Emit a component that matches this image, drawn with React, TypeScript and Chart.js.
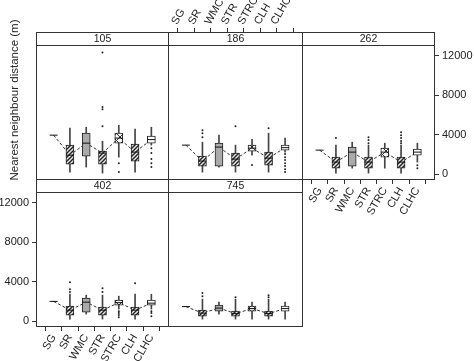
import React, { useEffect, useRef } from 'react';
import { Chart, registerables } from 'chart.js';

Chart.register(...registerables);

// ---------- data ----------
const categories = ['SG', 'SR', 'WMC', 'STR', 'STRC', 'CLH', 'CLHC'];
const panelLabels = ['105', '186', '262', '402', '745'];
const yTickValues = [0, 4000, 8000, 12000];
const yAxisTitle = 'Nearest neighbour distance (m)';

const lowerWhisker = [
  [null, 200, 710, 100, 1720, 200, 2940],
  [null, 200, 700, 200, 1920, 200, 2230],
  [null, 100, 600, 100, 600, 100, 1220],
  [null, 200, 710, 200, 1220, 200, 1220],
  [null, 200, 710, 200, 200, 200, 200],
];
const lowerQuartile = [
  [null, 1010, 1820, 1010, 3140, 1320, 3140],
  [null, 810, 810, 810, 2330, 910, 2430],
  [null, 610, 810, 610, 1720, 610, 1920],
  [null, 610, 910, 610, 1620, 610, 1620],
  [null, 510, 1010, 510, 1010, 510, 1010],
];
const medianValues = [
  [3950, 1920, 3140, 2130, 3650, 2230, 3500],
  [2940, 1320, 2740, 1520, 2630, 1620, 2680],
  [2430, 1220, 2230, 1220, 2230, 1220, 2230],
  [2000, 1110, 1920, 1110, 1870, 1110, 1820],
  [1470, 810, 1320, 760, 1270, 760, 1270],
];
const upperQuartile = [
  [null, 2940, 4150, 2330, 4150, 3040, 3850],
  [null, 1820, 3140, 2130, 2940, 2230, 2940],
  [null, 1720, 2740, 1720, 2630, 1720, 2530],
  [null, 1520, 2330, 1420, 2130, 1420, 2130],
  [null, 1110, 1620, 1010, 1520, 1010, 1520],
];
const upperWhisker = [
  [null, 4660, 4760, 3340, 4960, 4560, 4760],
  [null, 3240, 3950, 2940, 3540, 4150, 3650],
  [null, 2940, 3240, 2940, 3140, 2940, 3140],
  [null, 2740, 2630, 2630, 2530, 2740, 2730],
  [null, 2230, 1920, 2230, 1920, 2230, 1920],
];
const outlierValues = [
  [[], [], [], [4860, 6580, 6810, 12350], [1110, 200], [], [2630, 2130, 1520, 1110, 710]],
  [[], [3750, 4150, 4460], [], [4860], [910], [4660], [2030, 1720, 1420, 1110, 810, 500, 200]],
  [[], [3650], [], [3140, 3450, 3750], [], [3140, 3350, 3650, 3950, 4250], [600, 900]],
  [[], [2940, 3240, 3950], [], [2940, 3340], [1010, 810, 610, 400], [3850], [1010, 810, 500]],
  [[], [2530, 2840], [], [2430], [], [2430, 2630], []],
];

// ---------- layout / style ----------
const FONT = '"Liberation Sans", Arial, sans-serif';
const COL_LEFT = [36, 168, 302];
const COL_W = [133, 135, 133];
const ROW_TOP = [32, 179];
const STRIP_H = 13;
const AREA_H = 148;
const Y_MIN = -600;
const Y_MAX = 14420;
const Y_LEFT_W = 36;
const Y_RIGHT_W = 40;
const X_TOP_H = 32;
const X_BOTTOM_H = 42;

type PanelSpec = { col: number; row: number; xTop?: boolean; xBottom?: boolean; yLeft?: boolean; yRight?: boolean };
const panelSpecs: PanelSpec[] = [
  { col: 0, row: 0 },
  { col: 1, row: 0, xTop: true },
  { col: 2, row: 0, yRight: true, xBottom: true },
  { col: 0, row: 1, yLeft: true, xBottom: true },
  { col: 1, row: 1 },
];

function makePattern(size: number, lw: number, bg: string, fg: string, cross: boolean) {
  const c = document.createElement('canvas');
  c.width = size;
  c.height = size;
  const g = c.getContext('2d')!;
  g.fillStyle = bg;
  g.fillRect(0, 0, size, size);
  g.strokeStyle = fg;
  g.lineWidth = lw;
  g.beginPath();
  g.moveTo(-1, size + 1); g.lineTo(size + 1, -1);
  g.moveTo(-1, 1); g.lineTo(1, -1);
  g.moveTo(size - 1, size + 1); g.lineTo(size + 1, size - 1);
  if (cross) {
    g.moveTo(-1, -1); g.lineTo(size + 1, size + 1);
    g.moveTo(size - 1, -1); g.lineTo(size + 1, 1);
    g.moveTo(-1, size - 1); g.lineTo(1, size + 1);
  }
  g.stroke();
  return g.createPattern(c, 'repeat');
}

const fixSize = (size: number) => (s: any) => {
  const sz = s.options.display ? size : 0;
  if (s.isHorizontal()) s.height = sz;
  else s.width = sz;
  s.paddingLeft = 0; s.paddingRight = 0; s.paddingTop = 0; s.paddingBottom = 0;
};

function framePlugin(label: string) {
  return {
    id: 'panelFrame',
    afterDatasetsDraw(chart: any) {
      const { ctx, chartArea } = chart;
      const { left, top, right, bottom } = chartArea;
      ctx.save();
      ctx.fillStyle = '#ffffff';
      ctx.fillRect(left, top, right - left, STRIP_H);
      ctx.strokeStyle = '#333333';
      ctx.lineWidth = 1;
      ctx.strokeRect(left + 0.5, top + 0.5, right - left - 1, bottom - top - 1);
      ctx.beginPath();
      ctx.moveTo(left, top + STRIP_H + 0.5);
      ctx.lineTo(right, top + STRIP_H + 0.5);
      ctx.stroke();
      ctx.fillStyle = '#222222';
      ctx.font = `10.5px ${FONT}`;
      ctx.textAlign = 'center';
      ctx.textBaseline = 'middle';
      ctx.fillText(label, (left + right) / 2, top + STRIP_H / 2 + 1);
      ctx.restore();
    },
  };
}

function Panel({ p }: { p: number }) {
  const ref = useRef<HTMLCanvasElement>(null);
  const spec = panelSpecs[p];
  const axL = spec.yLeft ? Y_LEFT_W : 0;
  const axR = spec.yRight ? Y_RIGHT_W : 0;
  const axT = spec.xTop ? X_TOP_H : 0;
  const axB = spec.xBottom ? X_BOTTOM_H : 0;
  const w = axL + COL_W[spec.col] + axR;
  const h = axT + AREA_H + axB;
  const left = COL_LEFT[spec.col] - axL;
  const top = ROW_TOP[spec.row] - axT;

  useEffect(() => {
    const hatch = makePattern(4, 1.4, '#e6e6e6', '#222222', false);
    const crossHatch = makePattern(7, 1, '#f4f4f4', '#333333', true);
    const fills: any[] = [null, hatch, '#aaaaaa', hatch, crossHatch, hatch, '#ffffff'];
    const idxs = categories.map((_, i) => i).filter((i) => lowerQuartile[p][i] != null);
    const outlierPoints: { x: number; y: number }[] = [];
    outlierValues[p].forEach((arr, i) => arr.forEach((v) => outlierPoints.push({ x: i + 1, y: v })));

    const tickFont = { family: FONT, size: 11 };
    const chart = new Chart(ref.current!, {
      type: 'bar',
      data: {
        datasets: [
          {
            type: 'line',
            data: categories.map((_, i) => ({ x: i + 1, y: medianValues[p][i] })),
            borderColor: '#333333',
            borderWidth: 1,
            borderDash: [3, 2],
            pointRadius: 0,
            tension: 0,
            order: 5,
          } as any,
          {
            type: 'bar',
            data: idxs.map((i) => ({ x: i + 1, y: [lowerWhisker[p][i], upperWhisker[p][i]] })),
            backgroundColor: '#444444',
            barThickness: 1,
            grouped: false,
            order: 4,
          } as any,
          {
            type: 'bar',
            data: idxs.map((i) => ({ x: i + 1, y: [lowerQuartile[p][i], upperQuartile[p][i]] })),
            backgroundColor: idxs.map((i) => fills[i]),
            borderColor: '#222222',
            borderWidth: 1,
            borderSkipped: false,
            barThickness: 8,
            grouped: false,
            order: 3,
          } as any,
          {
            type: 'scatter',
            data: categories.map((_, i) => ({ x: i + 1, y: medianValues[p][i] })),
            pointStyle: 'line',
            pointRadius: 4,
            borderColor: '#111111',
            borderWidth: 1,
            order: 2,
          } as any,
          {
            type: 'scatter',
            data: outlierPoints,
            pointRadius: 1,
            backgroundColor: '#222222',
            borderWidth: 0,
            order: 1,
          } as any,
        ],
      },
      options: {
        animation: false,
        responsive: false,
        devicePixelRatio: 1,
        events: [],
        layout: { padding: 0, autoPadding: false },
        plugins: { legend: { display: false }, tooltip: { enabled: false } },
        scales: {
          x: {
            type: 'linear',
            min: 0.5,
            max: 7.5,
            display: !!(spec.xTop || spec.xBottom),
            position: spec.xTop ? 'top' : 'bottom',
            afterBuildTicks: (s: any) => {
              s.ticks = categories.map((_, i) => ({ value: i + 1 }));
            },
            afterFit: fixSize(spec.xTop ? X_TOP_H : X_BOTTOM_H),
            ticks: {
              autoSkip: false,
              minRotation: 60,
              maxRotation: 60,
              padding: 1,
              color: '#222222',
              font: tickFont,
              callback: (v: any) => categories[Math.round(Number(v)) - 1] ?? '',
            },
            grid: { drawOnChartArea: false, drawTicks: true, tickLength: 4, color: '#333333' },
            border: { display: false },
          },
          y: {
            type: 'linear',
            min: Y_MIN,
            max: Y_MAX,
            display: !!(spec.yLeft || spec.yRight),
            position: spec.yRight ? 'right' : 'left',
            afterBuildTicks: (s: any) => {
              s.ticks = yTickValues.map((v) => ({ value: v }));
            },
            afterFit: fixSize(spec.yRight ? Y_RIGHT_W : Y_LEFT_W),
            ticks: {
              padding: 3,
              color: '#222222',
              font: tickFont,
              callback: (v: any) => String(v),
            },
            grid: { drawOnChartArea: false, drawTicks: true, tickLength: 4, color: '#333333' },
            border: { display: false },
          },
        },
      } as any,
      plugins: [framePlugin(panelLabels[p])],
    });
    return () => chart.destroy();
  }, [p]);

  return (
    <canvas
      ref={ref}
      width={w}
      height={h}
      style={{ position: 'absolute', left, top, width: w, height: h }}
    />
  );
}

export default function App() {
  return (
    <div
      style={{
        position: 'absolute',
        left: 0,
        top: 0,
        width: 474,
        height: 361,
        overflow: 'hidden',
        background: '#ffffff',
        fontFamily: FONT,
      }}
    >
      {panelLabels.map((_, p) => (
        <Panel key={p} p={p} />
      ))}
      <div
        style={{
          position: 'absolute',
          left: 14 - 100,
          top: 100 - 8,
          width: 200,
          height: 16,
          lineHeight: '16px',
          fontSize: 11.5,
          color: '#222222',
          textAlign: 'center',
          whiteSpace: 'nowrap',
          transform: 'rotate(-90deg)',
          transformOrigin: '50% 50%',
        }}
      >
        {yAxisTitle}
      </div>
    </div>
  );
}
